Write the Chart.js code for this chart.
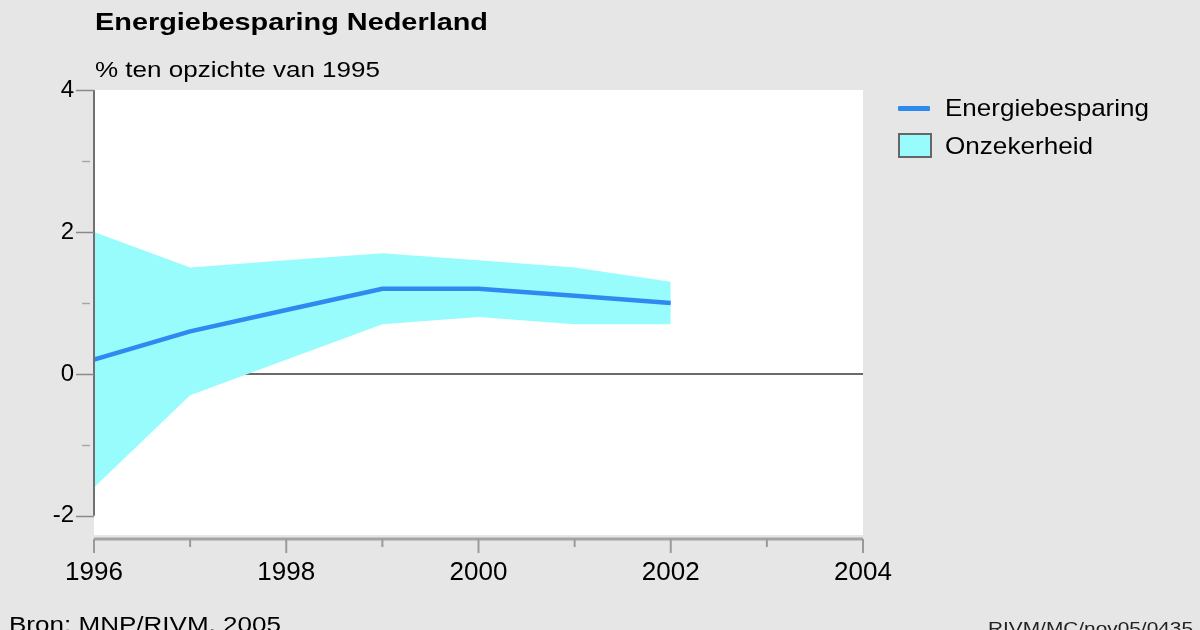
<!DOCTYPE html>
<html>
<head>
<meta charset="utf-8">
<script src="https://cdn.jsdelivr.net/npm/chart.js@4/dist/chart.umd.min.js"></script>
<style>
  html, body { margin:0; padding:0; background:#e6e6e6; }
  #wrap { position:absolute; left:0; top:0; width:1200px; height:630px; overflow:hidden; background:#e6e6e6; }
  #box { position:absolute; left:0; top:0; width:1200px; height:630px; }
  .t { position:absolute; white-space:nowrap; font-family:"Liberation Sans", Arial, sans-serif; color:#000; transform-origin:0 0; display:inline-block; }
  #title { left:95px; top:11px; font-size:23px; font-weight:bold; line-height:23px; }
  #sub { left:95px; top:59px; font-size:22px; line-height:22px; }
  #src { left:9px; top:614px; font-size:22px; line-height:22px; }
  #code { left:988px; top:620px; font-size:17px; line-height:17px; color:#222; }
  #lg1 { left:945px; top:96px; font-size:24px; line-height:24px; }
  #lg2 { left:945px; top:134px; font-size:24px; line-height:24px; }
</style>
</head>
<body>
<div id="wrap">
  <div id="box"><canvas id="c"></canvas></div>
  <div class="t" id="title">Energiebesparing Nederland</div>
  <div class="t" id="sub">% ten opzichte van 1995</div>
  <div class="t" id="src">Bron: MNP/RIVM, 2005</div>
  <div class="t" id="code">RIVM/MC/nov05/0435</div>
  <div style="position:absolute;left:898px;top:106px;width:32px;height:5px;background:#2e8af0;border-radius:1px;"></div>
  <div class="t" id="lg1">Energiebesparing</div>
  <div style="position:absolute;left:898px;top:133px;width:30px;height:21px;background:#99fcfc;border:2px solid #666;"></div>
  <div class="t" id="lg2">Onzekerheid</div>
</div>
<script>
// ---- data ----
const years = [1996, 1997, 1998, 1999, 2000, 2001, 2002];
const savings = [0.2, 0.6, 0.9, 1.2, 1.2, 1.1, 1.0];
const upperBound = [2.0, 1.5, 1.6, 1.7, 1.6, 1.5, 1.3];
const lowerBound = [-1.6, -0.3, 0.2, 0.7, 0.8, 0.7, 0.7];
const zeroLineYears = [1996, 2004];
const yTickValues = [-2, 0, 2, 4];
const yMinorTickValues = [-1, 1, 3];
const xTickValues = [1996, 1998, 2000, 2002, 2004];
const xMinorTickValues = [1997, 1999, 2001, 2003];

// fit HTML text widths
function fit(id, w) {
  const el = document.getElementById(id);
  const cw = el.getBoundingClientRect().width;
  el.style.transform = 'scaleX(' + (w / cw) + ')';
}
fit('title', 393);
fit('sub', 285);
fit('src', 272);
fit('code', 205);
fit('lg1', 204);
fit('lg2', 148);

const pts = (xs, ys) => xs.map((x, i) => ({x: x, y: ys[i]}));

const axesPlugin = {
  id: 'axesPlugin',
  beforeDraw(chart) {
    const {ctx, chartArea: a} = chart;
    ctx.save();
    ctx.fillStyle = '#ffffff';
    ctx.fillRect(a.left, a.top, a.right - a.left, a.bottom - a.top);
    ctx.restore();
  },
  afterDraw(chart) {
    const {ctx, chartArea: a, scales: {x, y}} = chart;
    ctx.save();
    ctx.strokeStyle = '#707070';
    ctx.lineWidth = 2;
    ctx.beginPath();
    ctx.moveTo(a.left, y.getPixelForValue(yTickValues[yTickValues.length - 1]));
    ctx.lineTo(a.left, y.getPixelForValue(yTickValues[0]));
    ctx.stroke();
    ctx.strokeStyle = '#8a8a8a';
    ctx.lineWidth = 1.5;
    yTickValues.forEach(v => {
      const py = Math.round(y.getPixelForValue(v)) + 0.5;
      ctx.beginPath(); ctx.moveTo(a.left - 18, py); ctx.lineTo(a.left, py); ctx.stroke();
    });
    ctx.strokeStyle = '#a8a8a8';
    ctx.lineWidth = 1.5;
    yMinorTickValues.forEach(v => {
      const py = Math.round(y.getPixelForValue(v)) + 0.5;
      ctx.beginPath(); ctx.moveTo(a.left - 12, py); ctx.lineTo(a.left - 4, py); ctx.stroke();
    });
    const ay = a.bottom + 4;
    ctx.strokeStyle = '#a4a4a4';
    ctx.lineWidth = 3;
    ctx.beginPath(); ctx.moveTo(a.left, ay); ctx.lineTo(a.right, ay); ctx.stroke();
    ctx.strokeStyle = '#9a9a9a';
    ctx.lineWidth = 2;
    xTickValues.forEach(v => {
      const px = x.getPixelForValue(v);
      ctx.beginPath(); ctx.moveTo(px, ay); ctx.lineTo(px, ay + 14); ctx.stroke();
    });
    xMinorTickValues.forEach(v => {
      const px = x.getPixelForValue(v);
      ctx.beginPath(); ctx.moveTo(px, ay); ctx.lineTo(px, ay + 8); ctx.stroke();
    });
    ctx.restore();
  }
};

new Chart(document.getElementById('c'), {
  type: 'line',
  data: {
    datasets: [
      { label: 'Energiebesparing', data: pts(years, savings), borderColor: '#2e8af0', borderWidth: 4.5,
        pointRadius: 0, fill: false, tension: 0 },
      { label: 'Onzekerheid', data: pts(years, upperBound), borderWidth: 0, borderColor: 'rgba(0,0,0,0)',
        backgroundColor: '#99fcfc', pointRadius: 0, fill: '+1', tension: 0 },
      { label: 'Onzekerheid onder', data: pts(years, lowerBound), borderWidth: 0, borderColor: 'rgba(0,0,0,0)',
        pointRadius: 0, fill: false, tension: 0 },
      { label: 'nul', data: pts(zeroLineYears, [0, 0]), borderColor: '#6a6a6a', borderWidth: 2,
        pointRadius: 0, fill: false }
    ]
  },
  options: {
    responsive: true,
    maintainAspectRatio: false,
    animation: false,
    events: [],
    layout: { padding: { top: 90, right: 337, left: 0, bottom: 0 } },
    plugins: { legend: { display: false }, tooltip: { enabled: false }, title: { display: false } },
    scales: {
      x: {
        type: 'linear', min: 1996, max: 2004,
        afterBuildTicks: s => { s.ticks = xTickValues.map(v => ({value: v})); },
        afterFit: s => { s.height = 95; },
        grid: { display: false, drawTicks: false },
        border: { display: false },
        ticks: { padding: 22, color: '#000', font: { family: '"Liberation Sans", Arial, sans-serif', size: 26 },
          maxRotation: 0, autoSkip: false, callback: v => String(v) }
      },
      y: {
        type: 'linear', min: -2.27, max: 4,
        afterBuildTicks: s => { s.ticks = yTickValues.map(v => ({value: v})); },
        afterFit: s => { s.width = 94; },
        grid: { display: false, drawTicks: false },
        border: { display: false },
        ticks: { padding: 20, color: '#000', font: { family: '"Liberation Sans", Arial, sans-serif', size: 24 },
          callback: v => String(v) }
      }
    }
  },
  plugins: [axesPlugin]
});
</script>
</body>
</html>
